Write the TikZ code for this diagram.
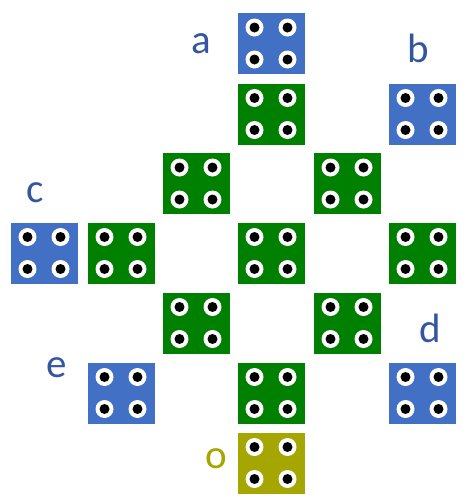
\documentclass[tikz,border=0pt]{standalone}
\usepackage{fontspec}
\setmainfont{Carlito}
\usepackage{tikz}
\definecolor{tileblue}{RGB}{66,112,196}
\definecolor{tilegreen}{RGB}{0,128,0}
\definecolor{tileolive}{RGB}{166,166,0}
\definecolor{labelblue}{RGB}{52,86,160}
\tikzset{
  tile/.style={inner sep=0, minimum width=67pt, minimum height=61pt},
  lbl/.style={inner sep=0, anchor=base, text=labelblue, font=\fontsize{41}{41}\selectfont}
}
\begin{document}
\begin{tikzpicture}[x=1pt,y=-1pt]
    \useasboundingbox (0,0) rectangle (474,499);

    % blue tiles
    \node[tile, fill=tileblue] (ta) at (271,43.5) {};
    \node[tile, fill=tileblue] (tb) at (422,114) {};
    \node[tile, fill=tileblue] (tc) at (44,253) {};
    \node[tile, fill=tileblue] (te) at (121,393) {};
    \node[tile, fill=tileblue] (td) at (422,393) {};

    % green tiles
    \node[tile, fill=tilegreen] (g1) at (271,114) {};
    \node[tile, fill=tilegreen] (g2) at (196,183.5) {};
    \node[tile, fill=tilegreen] (g3) at (347,183.5) {};
    \node[tile, fill=tilegreen] (g4) at (121,253) {};
    \node[tile, fill=tilegreen] (g5) at (271,253) {};
    \node[tile, fill=tilegreen] (g6) at (422,253) {};
    \node[tile, fill=tilegreen] (g7) at (196,323) {};
    \node[tile, fill=tilegreen] (g8) at (347,323) {};
    \node[tile, fill=tilegreen] (g9) at (271,393) {};

    % olive tile
    \node[tile, fill=tileolive] (to) at (271,463) {};

    % holes
    \foreach \t in {ta,tb,tc,td,te,to,g1,g2,g3,g4,g5,g6,g7,g8,g9}
      \foreach \dx in {-16.5,16.5}
        \foreach \dy in {-16,16} {
          \fill[white] ([shift={(\dx,\dy)}]\t.center) circle (9);
          \fill[black] ([shift={(\dx,\dy)}]\t.center) circle (5);
        }

    % labels
    \node[lbl] (la) at (201,53) {a};
    \node[lbl] (lb) at (418,62) {b};
    \node[lbl] (lc) at (35,202) {c};
    \node[lbl] (ld) at (430,342) {d};
    \node[lbl] (le) at (57,377) {e};
    \node[lbl, text=tileolive] (lo) at (216,468) {o};
\end{tikzpicture}
\end{document}
